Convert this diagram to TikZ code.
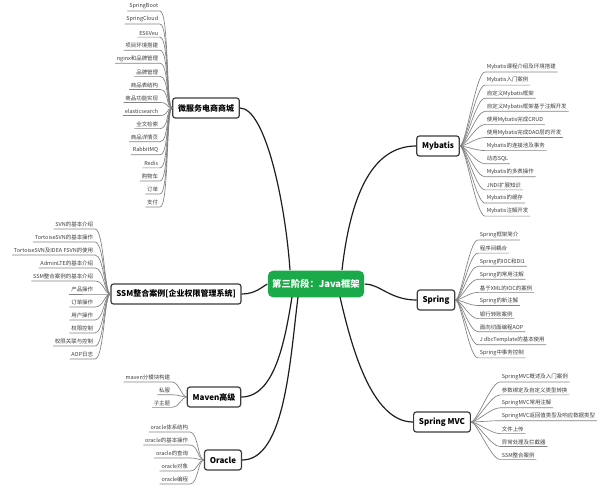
\documentclass[tikz,border=0pt]{standalone}
\usepackage{fontspec}
\setmainfont{Noto Sans CJK SC}
\tikzset{every picture/.style={line width=0.75pt}}
\tikzset{
  topic/.style={draw={rgb,255:red,60;green,60;blue,60},rounded corners=2pt,fill=white,font=\bfseries\fontsize{6}{7}\selectfont,inner xsep=4pt,minimum height=15,line width=0.9pt},
  leaf/.style={font=\fontsize{4.1}{5}\selectfont,inner sep=1pt,text={rgb,255:red,60;green,60;blue,60}},
  twig/.style={draw={rgb,255:red,130;green,130;blue,130},line width=0.5pt},
  branch/.style={draw={rgb,255:red,30;green,30;blue,30},line width=0.9pt}
}

\begin{document}
\begin{tikzpicture}[x=0.75pt,y=0.75pt,yscale=-1,xscale=1]
\useasboundingbox (0,0) rectangle (600,487);

% Center
\node [fill={rgb,255:red,27;green,170;blue,74},rounded corners=4pt,text=white,font=\bfseries\fontsize{7}{9}\selectfont,minimum width=69pt,minimum height=20pt] (c) at (316,284) {第三阶段：Java框架};

% Topics
\node [topic] (ms) at (206,108) {微服务电商商城};
\node [topic] (ssm) at (176,294) {SSM整合案例[企业权限管理系统]};
\node [topic] (mvn) at (214,397) {Maven高级};
\node [topic] (ora) at (223,460) {Oracle};
\node [topic] (myb) at (438,146) {Mybatis};
\node [topic] (spr) at (436,300) {Spring};
\node [topic] (mvc) at (442,422) {Spring MVC};

% Branches
\draw [branch] (ms.east) .. controls (265,108) and (285,200) .. (290,270);
\draw [branch] (ssm.east) .. controls (255,294) and (262,287) .. (c.west);
\draw [branch] (mvn.east) .. controls (275,397) and (285,340) .. (292,297);
\draw [branch] (ora.east) .. controls (285,460) and (290,360) .. (298,297);
\draw [branch] (myb.west) .. controls (370,146) and (350,200) .. (342,270);
\draw [branch] (spr.west) .. controls (390,300) and (380,284) .. (c.east);
\draw [branch] (mvc.west) .. controls (370,422) and (350,340) .. (340,297);

% Left leaves
\foreach \t [count=\i] in {SpringBoot,SpringCloud,ES6Veu,项目环境搭建,nginx和品牌管理,品牌管理,商品表结构,商品功能实现,elasticsearch,全文检索,商品详情页,RabbitMQ,Redis,购物车,订单,支付}{
  \node [leaf,anchor=south east] (ms\i) at (160,{11+13.07*(\i-1)}) {\t};
  \draw [twig] (ms\i.south west) -- (ms\i.south east) .. controls +(9,0) and +(-6,0) .. (ms.west);
}
\foreach \t [count=\i] in {SVN的基本介绍,TortoiseSVN的基本操作,TortoiseSVN及IDEA FSVN的使用,AdminLTE的基本介绍,SSM整合案例的基本介绍,产品操作,订单操作,用户操作,权限控制,权限关联与控制,AOP日志}{
  \node [leaf,anchor=south east] (ssm\i) at (95,{229+13*(\i-1)}) {\t};
  \draw [twig] (ssm\i.south west) -- (ssm\i.south east) .. controls +(9,0) and +(-6,0) .. (ssm.west);
}
\foreach \t [count=\i] in {maven分模块构建,私服,子主题}{
  \node [leaf,anchor=south east] (mvn\i) at (172,{382+12.7*(\i-1)}) {\t};
  \draw [twig] (mvn\i.south west) -- (mvn\i.south east) .. controls +(7,0) and +(-5,0) .. (mvn.west);
}
\foreach \t [count=\i] in {oracle体系结构,oracle的基本操作,oracle的查询,oracle对象,oracle编程}{
  \node [leaf,anchor=south east] (ora\i) at (190,{432+13*(\i-1)}) {\t};
  \draw [twig] (ora\i.south west) -- (ora\i.south east) .. controls +(8,0) and +(-6,0) .. (ora.west);
}

% Right leaves
\foreach \t [count=\i] in {Mybatis课程介绍及环境搭建,Mybatis入门案例,自定义Mybatis框架,自定义Mybatis框架基于注解开发,使用Mybatis完成CRUD,使用Mybatis完成DAO层的开发,Mybatis的连接池及事务,动态SQL,Mybatis的多表操作,JNDI扩展知识,Mybatis的缓存,Mybatis注解开发}{
  \node [leaf,anchor=south west] (myb\i) at (485,{72+13.1*(\i-1)}) {\t};
  \draw [twig] (myb\i.south east) -- (myb\i.south west) .. controls +(-9,0) and +(6,0) .. (myb.east);
}
\foreach \t [count=\i] in {Spring框架简介,程序间耦合,Spring的IOC和DI1,Spring的常用注解,基于XML的IOC的案例,Spring的新注解,银行转账案例,面向切面编程AOP,J dbcTemplate的基本使用,Spring中事务控制}{
  \node [leaf,anchor=south west] (spr\i) at (478,{240+13.1*(\i-1)}) {\t};
  \draw [twig] (spr\i.south east) -- (spr\i.south west) .. controls +(-9,0) and +(6,0) .. (spr.east);
}
\foreach \t [count=\i] in {SpringMVC概述及入门案例,参数绑定及自定义类型转换,SpringMVC常用注解,SpringMVC返回值类型及响应数据类型,文件上传,异常处理及拦截器,SSM整合案例}{
  \node [leaf,anchor=south west] (mvc\i) at (500,{382+12.9*(\i-1)}) {\t};
  \draw [twig] (mvc\i.south east) -- (mvc\i.south west) .. controls +(-9,0) and +(6,0) .. (mvc.east);
}

\end{tikzpicture}
\end{document}
